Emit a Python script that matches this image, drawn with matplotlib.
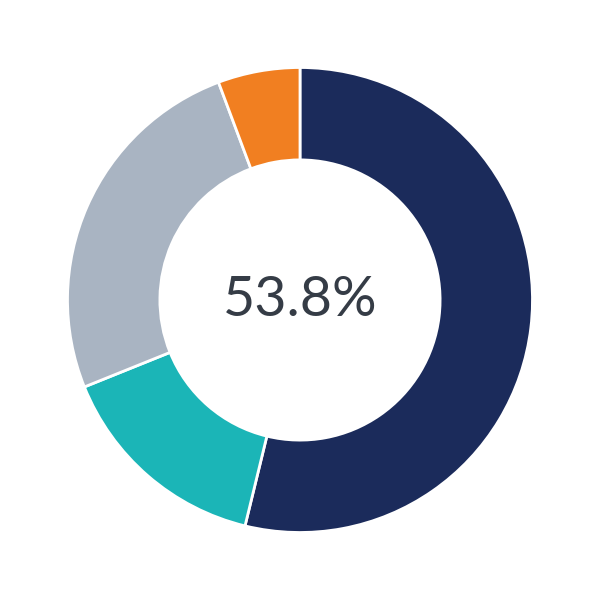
import matplotlib
matplotlib.use("Agg")
import matplotlib.pyplot as plt

# slices, clockwise from 12 o'clock
labels = ["Navy", "Teal", "Gray", "Orange"]
values = [53.8, 15.1, 25.4, 5.7]
colors = ["#1b2b5b", "#1bb5b7", "#a9b4c2", "#f17f21"]
center_text = "53.8%"

fig, ax = plt.subplots(figsize=(6, 6), dpi=100)
fig.subplots_adjust(left=0, right=1, bottom=0, top=1)

ax.pie(values, colors=colors, startangle=90, counterclock=False,
       radius=0.775, wedgeprops=dict(width=0.308, edgecolor="white", linewidth=2))
ax.text(0, 0, center_text, ha="center", va="center", fontsize=40,
        family="Lato", color="#353c46")
ax.set_xlim(-1, 1)
ax.set_ylim(-1, 1)
ax.set_aspect("equal")
ax.axis("off")

fig.savefig("out.png", dpi=100, facecolor="white")
